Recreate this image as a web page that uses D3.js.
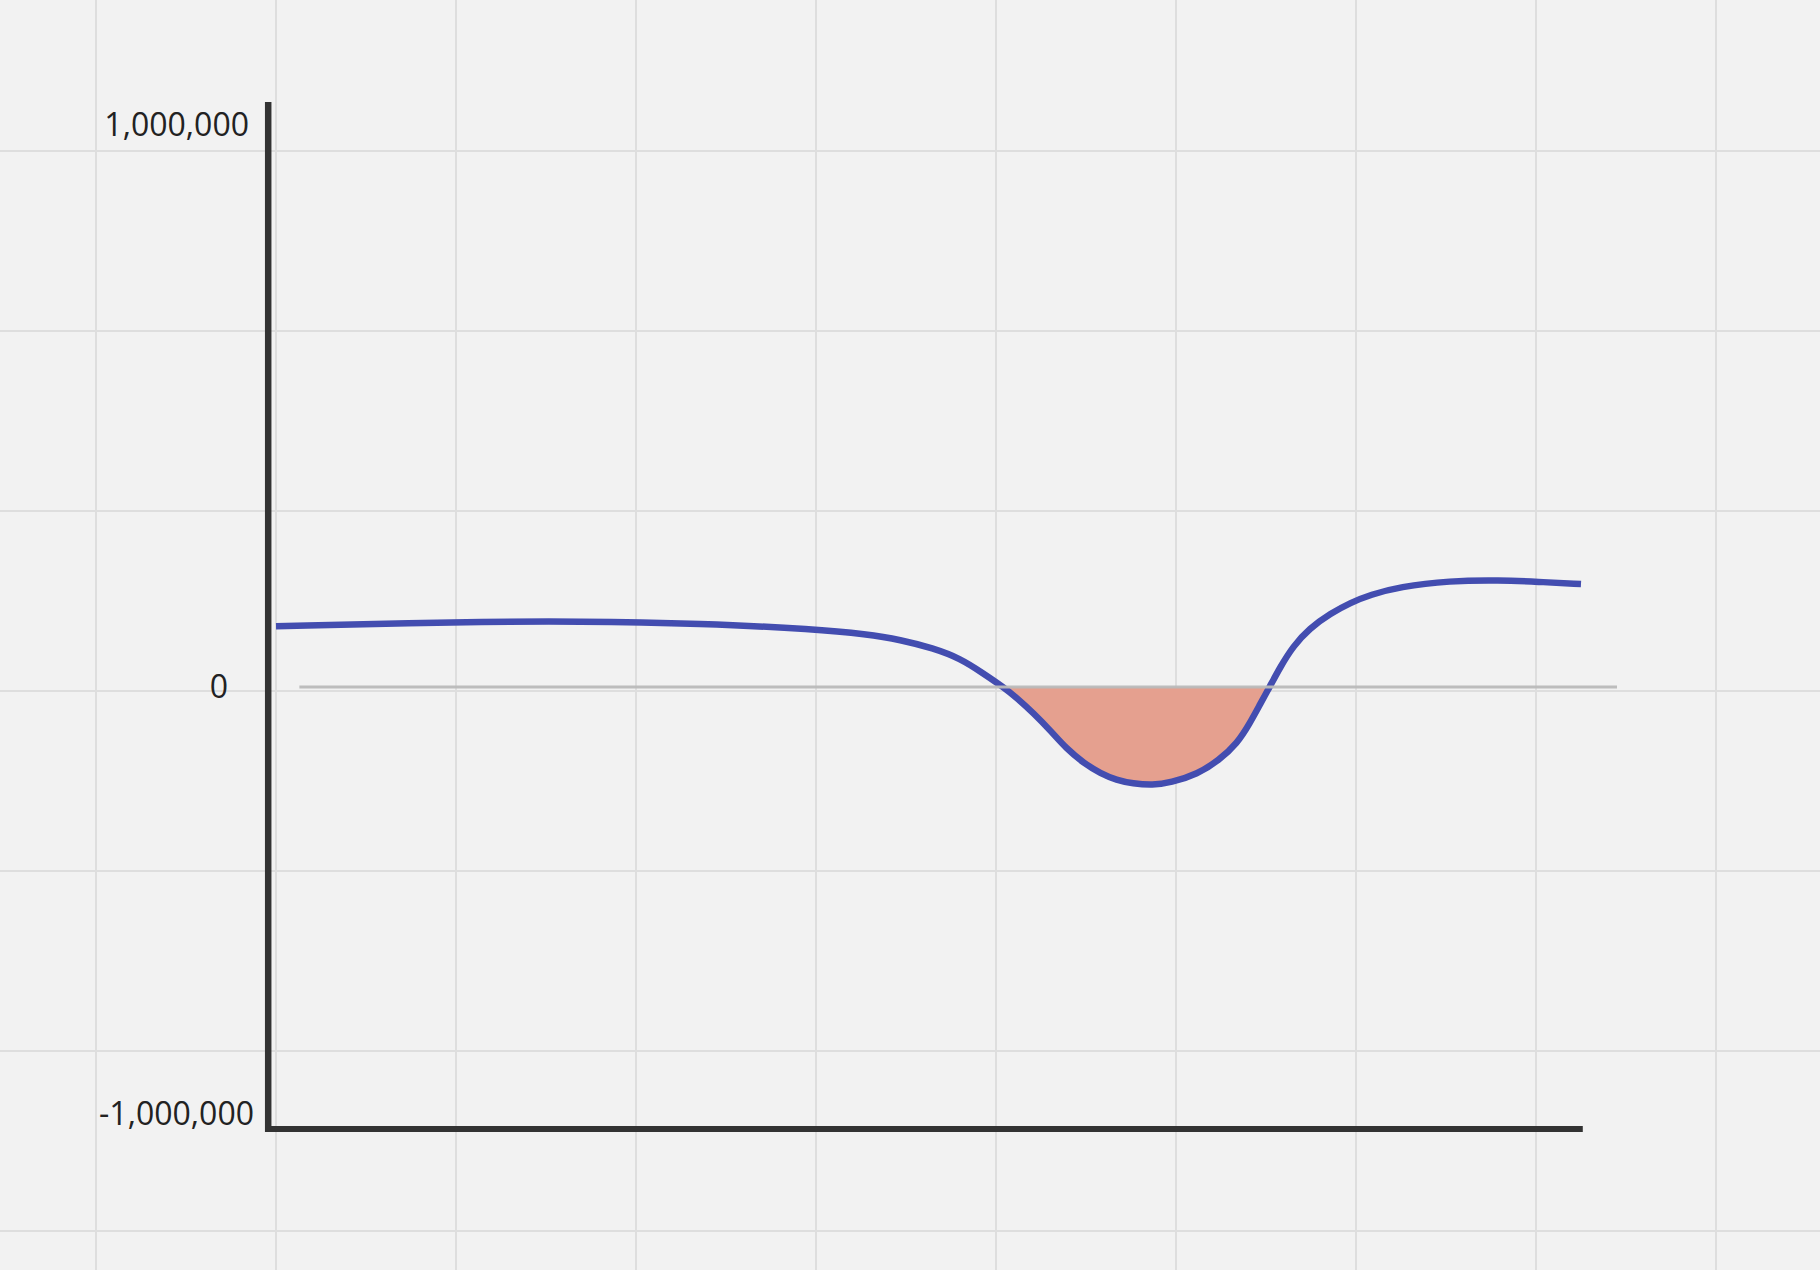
<!DOCTYPE html>
<html>
<head>
<meta charset="utf-8">
<script src="https://cdn.jsdelivr.net/npm/d3@7"></script>
<style>
  body { margin: 0; background: #f2f2f2; }
  svg { display: block; }
  text { font-family: "Open Sans", "Noto Sans", sans-serif; fill: #222; }
</style>
</head>
<body>
<script>
// Data: position along the x axis (grid units) and the value at that point
var xs = [0, 1.04, 1.69, 2.36, 3.0, 3.28, 3.47, 3.65, 3.8, 3.93,
          4.04, 4.12, 4.21, 4.3, 4.39, 4.49, 4.58, 4.67, 4.76, 4.87,
          4.97, 5.12, 5.24, 5.34, 5.41, 5.47, 5.52, 5.58, 5.65, 5.74,
          5.86, 5.97, 6.08, 6.24, 6.52, 6.8, 7.01, 7.25];
var values = [108000, 116000, 117000, 113000, 103000, 94000, 84000, 69000, 51000, 24000,
              0, -27000, -62000, -101000, -144000, -179000, -202000, -218000, -226000, -230000,
              -224000, -204000, -171000, -132000, -85000, -38000, 0, 36000, 72000, 104000,
              131000, 150000, 164000, 178000, 189000, 190000, 187000, 183000];

// y ticks
var yTicks = [1000000, 0, -1000000];
// extent of the axes and of the zero reference line (data units)
var yExtent = [-1035000, 1040000];
var xExtent = [-0.06, 7.26];
var zeroLineExtent = [0.13, 7.45];

var width = 1820, height = 1270;

var svg = d3.select("body").append("svg")
            .attr("width", width)
            .attr("height", height);

// background grid
var gridStep = 180;
svg.append("rect").attr("width", width).attr("height", height).attr("fill", "#f2f2f2");
var grid = svg.append("g").attr("stroke", "#dedede").attr("stroke-width", 2);
grid.selectAll("line.v")
    .data(d3.range(96, width, gridStep))
    .enter().append("line")
    .attr("x1", d => d).attr("x2", d => d)
    .attr("y1", 0).attr("y2", height);
grid.selectAll("line.h")
    .data(d3.range(151, height, gridStep))
    .enter().append("line")
    .attr("y1", d => d).attr("y2", d => d)
    .attr("x1", 0).attr("x2", width);

// scales
var x = d3.scaleLinear().domain([0, 8]).range([276, 1716]);
var y = d3.scaleLinear()
          .domain([yExtent[0], 0, yExtent[1]])
          .range([1129, 687, 102]);

var data = xs.map(function(d, i) { return {x: d, v: values[i]}; });

// negative region fill, clipped below zero
svg.append("clipPath").attr("id", "below")
   .append("rect")
   .attr("x", 0).attr("y", y(0))
   .attr("width", width).attr("height", height - y(0));

var area = d3.area()
             .curve(d3.curveBasis)
             .x(d => x(d.x))
             .y0(y(0))
             .y1(d => y(d.v));

svg.append("path")
   .datum(data)
   .attr("clip-path", "url(#below)")
   .attr("fill", "#e5a08f")
   .attr("d", area);

// series line
var line = d3.line()
             .curve(d3.curveBasis)
             .x(d => x(d.x))
             .y(d => y(d.v));

svg.append("path")
   .datum(data)
   .attr("fill", "none")
   .attr("stroke", "#434db0")
   .attr("stroke-width", 6.5)
   .attr("d", line);

// zero reference line
svg.append("line")
   .attr("x1", x(zeroLineExtent[0])).attr("x2", x(zeroLineExtent[1]))
   .attr("y1", y(0)).attr("y2", y(0))
   .attr("stroke", "#b9b9b9")
   .attr("stroke-opacity", 0.95)
   .attr("stroke-width", 3);

// axes
var axisX0 = x(xExtent[0]) + 3;
svg.append("line")
   .attr("x1", axisX0).attr("x2", axisX0)
   .attr("y1", y(yExtent[1])).attr("y2", y(yExtent[0]) + 3)
   .attr("stroke", "#333").attr("stroke-width", 6.5);
svg.append("line")
   .attr("x1", x(xExtent[0])).attr("x2", x(xExtent[1]))
   .attr("y1", y(yExtent[0])).attr("y2", y(yExtent[0]))
   .attr("stroke", "#333").attr("stroke-width", 6);

// tick labels
var fmt = d3.format(",");
svg.selectAll("text.tick")
   .data(yTicks)
   .enter().append("text")
   .attr("class", "tick")
   .attr("x", d => d === 0 ? 228 : (d < 0 ? 254 : 249))
   .attr("y", d => y(d))
   .attr("dy", "0.35em")
   .attr("text-anchor", "end")
   .attr("font-size", 32)
   .text(d => fmt(d).replace("\u2212", "-"));
</script>
</body>
</html>
